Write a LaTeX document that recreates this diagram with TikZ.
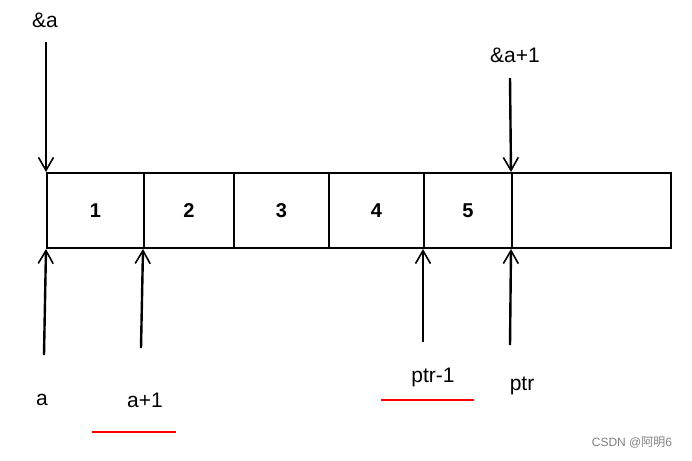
\documentclass[tikz,border=0pt]{standalone}
\usepackage{fontspec}
\setmainfont{Liberation Sans}
\newfontfamily\cjk{Noto Sans CJK SC}
\usetikzlibrary{arrows.meta}
\begin{document}
\begin{tikzpicture}[x=1pt,y=-1pt,
  cell/.style={draw,line width=2pt,minimum height=75pt,inner sep=0pt,anchor=north west,font=\bfseries\fontsize{20}{24}\selectfont},
  ptr/.style={line width=2.4pt,-{Straight Barb[length=13pt,width=15pt,line width=1.6pt]}},
  lab/.style={font=\fontsize{21}{25}\selectfont},
  red/.style={draw=red,line width=2.5pt}]
\useasboundingbox (0,0) rectangle (692,460);
\node[cell,minimum width=97pt] (c1) at (46,172) {1};
\node[cell,minimum width=90pt] (c2) at (143,172) {2};
\node[cell,minimum width=95pt] (c3) at (233,172) {3};
\node[cell,minimum width=95pt] (c4) at (328,172) {4};
\node[cell,minimum width=88pt] (c5) at (423,172) {5};
\node[cell,minimum width=159pt] (c6) at (511,172) {};
\node[lab] (la) at (45,20) {\&a};
\node[lab] (la1) at (515,55) {\&a+1};
\node[lab] (ba) at (42,400) {a};
\node[lab] (ba1) at (145,400) {a+1};
\node[lab] (bp1) at (433,377) {ptr-1};
\node[lab] (bp) at (522,386) {ptr};
\coordinate (s1) at (46,42); \coordinate (s2) at (510,78);
\coordinate (s3) at (44,355); \coordinate (s4) at (141,348);
\coordinate (s5) at (423,342); \coordinate (s6) at (510,345);
\draw[ptr] (s1) -- (c1.north west);
\draw[ptr] (s2) -- (c6.north west);
\draw[ptr] (s3) -- (c1.south west);
\draw[ptr] (s4) -- (c2.south west);
\draw[ptr] (s5) -- (c5.south west);
\draw[ptr] (s6) -- (c6.south west);
\draw[red] (92,432) -- (176,432);
\draw[red] (381,400) -- (474,400);
\node[text=gray,font=\fontsize{12}{14}\selectfont] (wm) at (632,443) {CSDN @{\cjk 阿明}6};
\end{tikzpicture}
\end{document}
